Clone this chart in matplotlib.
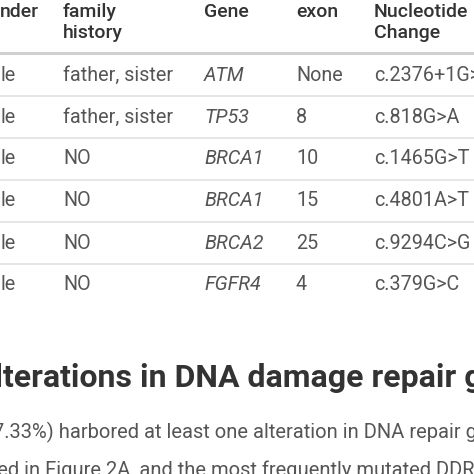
import matplotlib
matplotlib.use('Agg')
import matplotlib.pyplot as plt

plt.rcParams['font.family'] = ['Roboto', 'DejaVu Sans']

# table contents (the view is cropped on left/right)
headers = [['nder'], ['family', 'history'], ['Gene'], ['exon'], ['Nucleotide', 'Change']]
col_gender = ['le', 'le', 'le', 'le', 'le', 'le']
col_family = ['father, sister', 'father, sister', 'NO', 'NO', 'NO', 'NO']
col_gene = ['ATM', 'TP53', 'BRCA1', 'BRCA1', 'BRCA2', 'FGFR4']
col_exon = ['None', '8', '10', '15', '25', '4']
col_change = ['c.2376+1G>A', 'c.818G>A', 'c.1465G>T', 'c.4801A>T', 'c.9294C>G', 'c.379G>C']

heading = 'Alterations in DNA damage repair genes'
body_lines = ['(7.33%) harbored at least one alteration in DNA repair genes',
              'exhibited in Figure 2A, and the most frequently mutated DDR']

fig = plt.figure(figsize=(4.74, 4.74), dpi=100)
ax = fig.add_axes([0, 0, 1, 1])
ax.set_xlim(0, 474)
ax.set_ylim(474, 0)
ax.axis('off')

col_x = [0, 63, 204, 296, 374]
dark = '#333333'
grey = '#555555'

for x, h in zip(col_x, headers):
    for j, line in enumerate(h):
        ax.text(x, 12 + j * 21, line, fontsize=14, color=dark, fontweight='medium',
                va='center', ha='left')

ax.axhline(53, color='#d0d0d0', lw=2.2)
row_y0 = 75
row_h = 42
for i in range(len(col_gene)):
    y = row_y0 + i * row_h
    vals = [col_gender[i], col_family[i], col_gene[i], col_exon[i], col_change[i]]
    for k, (x, v) in enumerate(zip(col_x, vals)):
        ax.text(x, y, v, fontsize=14.2, color=grey, va='center', ha='left',
                style='italic' if k == 2 else 'normal')
    if i < len(col_gene) - 1:
        ax.axhline(y + 21, color='#e0e0e0', lw=1.2)

ax.text(-27, 378, heading, fontsize=23, color=dark, fontweight='bold', va='center', ha='left')

ax.text(-14, 432, body_lines[0], fontsize=14.5, color=grey, va='center', ha='left')
ax.text(-62, 470, body_lines[1], fontsize=14.5, color=grey, va='center', ha='left')

fig.savefig('out.png', dpi=100)
